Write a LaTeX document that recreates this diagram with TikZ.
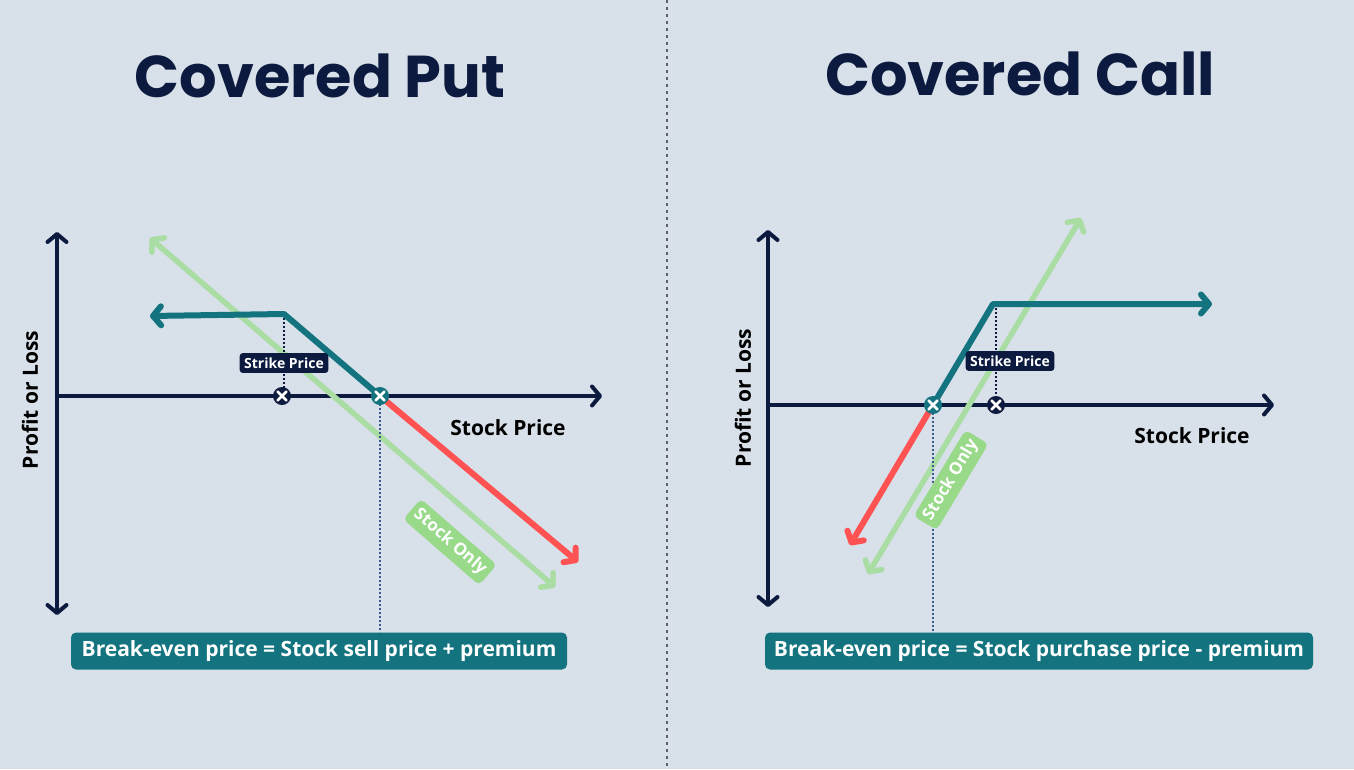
\documentclass[tikz,border=0pt]{standalone}
\usepackage{fontspec}
\setmainfont{Open Sans}
\newfontfamily\titlefont{Poppins}
\usetikzlibrary{arrows.meta}
\definecolor{bg}{HTML}{D8E0E9}
\definecolor{navy}{HTML}{0B1A3E}
\definecolor{tealc}{HTML}{137480}
\definecolor{redc}{HTML}{FF5252}
\definecolor{greenl}{HTML}{AADDA3}
\definecolor{greenb}{HTML}{98D98A}
\definecolor{dotblue}{HTML}{3A5A8C}
\tikzset{
  barb/.style={-{Straight Barb[length=8pt,width=19pt,line cap=round,line join=round]}},
  barbs/.style={{Straight Barb[length=8pt,width=19pt,line cap=round,line join=round]}-{Straight Barb[length=8pt,width=19pt,line cap=round,line join=round]}},
  axisl/.style={navy,line width=4pt,line cap=round},
  payoff/.style={tealc,line width=6pt,line cap=round,line join=round},
  losss/.style={redc,line width=6pt,line cap=round},
  stock/.style={greenl,line width=5.5pt,line cap=round},
  xmark/.style={circle,minimum size=18pt,inner sep=0pt},
  xcross/.style={white,line width=2.6pt,line cap=round},
  strikelab/.style={fill=navy,rounded corners=3pt,text=white,font=\bfseries\fontsize{14}{14}\selectfont,inner sep=4.5pt},
  stocklab/.style={fill=greenb,rounded corners=5pt,text=white,font=\bfseries\fontsize{17}{17}\selectfont,inner sep=5pt},
  belab/.style={fill=tealc,rounded corners=5pt,text=white,font=\bfseries\fontsize{21}{21}\selectfont,inner xsep=8pt,inner ysep=8pt},
  axtext/.style={font=\bfseries\fontsize{21}{21}\selectfont,text=black},
  titlet/.style={font=\titlefont\bfseries\fontsize{59}{59}\selectfont,text=navy},
  vdot/.style={dotblue,line width=2pt,dash pattern=on 2pt off 2pt},
  sdot/.style={navy,line width=2pt,dash pattern=on 2pt off 2pt}
}
\newcommand{\xcr}[1]{\draw[xcross] ([shift={(-4.5pt,-4.5pt)}]#1.center) -- ([shift={(4.5pt,4.5pt)}]#1.center) ([shift={(-4.5pt,4.5pt)}]#1.center) -- ([shift={(4.5pt,-4.5pt)}]#1.center);}
\begin{document}
\begin{tikzpicture}[x=1pt,y=-1pt]
\fill[bg] (0,0) rectangle (1354,769);
\useasboundingbox (0,0) rectangle (1354,769);
\coordinate (dtop) at (667,0); \coordinate (dbot) at (667,769);
\draw[gray!70!navy,line width=2pt,dash pattern=on 3pt off 4pt] (dtop) -- (dbot);
% ---------- LEFT ----------
\node[titlet] (t1) at (320,76) {Covered Put};
\coordinate (ya) at (57,232); \coordinate (yb) at (57,615);
\coordinate (xa) at (57,396); \coordinate (xb) at (602,396);
\draw[axisl,barbs] (yb) -- (ya);
\draw[axisl,barb] (xa) -- (xb);
\coordinate (kL) at (284,314); \coordinate (tL) at (150,316);
\coordinate (beL) at (380,396); \coordinate (rL) at (578,562);
\coordinate (gLa) at (150,238); \coordinate (gLb) at (555,587);
\draw[stock,barbs] (gLa) -- (gLb);
\draw[sdot] (kL) -- (284,390);
\coordinate (bebL) at (380,632);
\draw[vdot] (beL) -- (bebL);
\draw[losss,barb] (beL) -- (rL);
\draw[payoff,barb] (beL) -- (kL) -- (tL);
\node[xmark,fill=navy] (mL) at (282,396) {}; \xcr{mL}
\node[xmark,fill=tealc] (mbL) at (beL) {}; \xcr{mbL}
\node[strikelab] (sL) at (284,363) {Strike Price};
\node[axtext] (spL) at (508,428) {Stock Price};
\node[axtext,rotate=90] (plL) at (30,400) {Profit or Loss};
\node[stocklab,rotate=-41] (soL) at (450,542) {Stock Only};
\node[belab,minimum width=496pt] (beboxL) at (319,651) {Break-even price = Stock sell price + premium};
% ---------- RIGHT ----------
\node[titlet] (t2) at (1020,74) {Covered Call};
\coordinate (ya2) at (768,230); \coordinate (yb2) at (768,607);
\coordinate (xa2) at (768,405); \coordinate (xb2) at (1274,405);
\draw[axisl,barbs] (yb2) -- (ya2);
\draw[axisl,barb] (xa2) -- (xb2);
\coordinate (beR) at (933,405); \coordinate (kR) at (993,304);
\coordinate (tR) at (1212,304); \coordinate (rR) at (850,545);
\coordinate (gRa) at (868,574); \coordinate (gRb) at (1081,218);
\draw[stock,barbs] (gRa) -- (gRb);
\draw[sdot] (996,304) -- (996,399);
\coordinate (bebR) at (933,632);
\draw[vdot] (beR) -- (bebR);
\draw[losss,barb] (beR) -- (rR);
\draw[payoff,barb] (beR) -- (kR) -- (tR);
\node[xmark,fill=navy] (mR) at (996,405) {}; \xcr{mR}
\node[xmark,fill=tealc] (mbR) at (beR) {}; \xcr{mbR}
\node[strikelab] (sR) at (1010,361) {Strike Price};
\node[axtext] (spR) at (1192,436) {Stock Price};
\node[axtext,rotate=90] (plR) at (743,398) {Profit or Loss};
\node[stocklab,rotate=59] (soR) at (951,480) {Stock Only};
\node[belab,minimum width=548pt] (beboxR) at (1039,651) {Break-even price = Stock purchase price - premium};
\end{tikzpicture}
\end{document}
